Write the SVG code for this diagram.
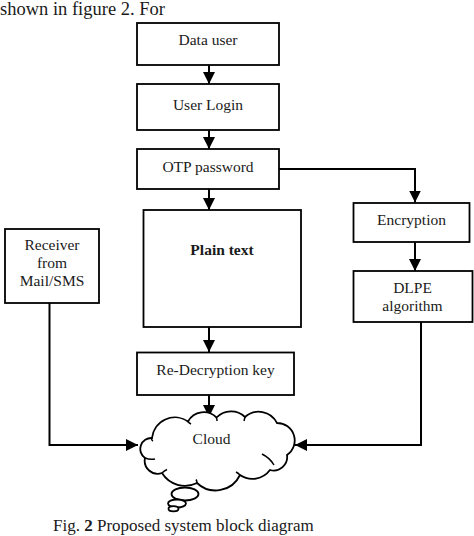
<svg xmlns="http://www.w3.org/2000/svg" width="474" height="536" viewBox="0 0 474 536">
<style>
.box{fill:#fff;stroke:#000;stroke-width:1.8}
.t{font-family:"Liberation Serif","Times New Roman",serif;font-size:15.5px;fill:#1a1a1a;text-anchor:middle}
.b{font-weight:bold}
.c{fill:none;stroke:#000;stroke-width:2}
.cl{fill:#fff;stroke:#000;stroke-width:1.8}
</style>
<defs>
<marker id="ah" markerUnits="userSpaceOnUse" markerWidth="12" markerHeight="12" viewBox="0 0 12 12" refX="12" refY="6" orient="auto">
<path d="M0,0 L12,6 L0,12 Z" fill="#000"/>
</marker>
</defs>
<rect width="474" height="536" fill="#fff"/>
<text x="0" y="14.5" style="font-family:'Liberation Serif','Times New Roman',serif;font-size:18.5px;fill:#1a1a1a">shown in figure 2. For</text>

<g id="connectors">
<line class="c" x1="209" y1="65" x2="209" y2="84" marker-end="url(#ah)"/>
<line class="c" x1="209" y1="130" x2="209" y2="149" marker-end="url(#ah)"/>
<line class="c" x1="209" y1="189" x2="209" y2="210" marker-end="url(#ah)"/>
<path class="c" d="M279,169 H415 V202.5" marker-end="url(#ah)"/>
<line class="c" x1="415" y1="242" x2="415" y2="271" marker-end="url(#ah)"/>
<line class="c" x1="209" y1="327" x2="209" y2="352" marker-end="url(#ah)"/>
<line class="c" x1="209" y1="395" x2="209" y2="417" marker-end="url(#ah)"/>
<path class="c" d="M49.5,303 V445 H138" marker-end="url(#ah)"/>
<path class="c" d="M421,322 V445 H295" marker-end="url(#ah)"/>
</g>

<g id="data-user">
<rect class="box" x="137" y="23" width="142" height="42"/>
<text class="t" x="208" y="45">Data user</text>
</g>
<g id="user-login">
<rect class="box" x="137" y="84" width="142" height="46"/>
<text class="t" x="208" y="110">User Login</text>
</g>
<g id="otp-password">
<rect class="box" x="137" y="149" width="142" height="40"/>
<text class="t" x="208" y="172">OTP password</text>
</g>
<g id="plain-text">
<rect class="box" x="143.5" y="210" width="157.5" height="117"/>
<text class="t b" x="222" y="254.5">Plain text</text>
</g>
<g id="encryption">
<rect class="box" x="353.5" y="203" width="116" height="39"/>
<text class="t" x="411.5" y="225">Encryption</text>
</g>
<g id="dlpe-algorithm">
<rect class="box" x="353.5" y="271" width="119" height="51"/>
<text class="t" x="412.5" y="293">DLPE</text>
<text class="t" x="412.5" y="311">algorithm</text>
</g>
<g id="receiver">
<rect class="box" x="5" y="229" width="94" height="74"/>
<text class="t" x="52" y="250">Receiver</text>
<text class="t" x="52" y="268">from</text>
<text class="t" x="52" y="286">Mail/SMS</text>
</g>
<g id="re-decryption-key">
<rect class="box" x="137" y="352.5" width="157" height="42.5"/>
<text class="t" x="215.5" y="375">Re-Decryption key</text>
</g>
<g id="cloud">
<path class="cl" d="M145,458 A11,11 0 0 1 152,438 A23,23 0 0 1 188,421.5 A18,18 0 0 1 216.5,417.5 A20,20 0 0 1 245,417 A20.5,20.5 0 0 1 277,423 A17.5,17.5 0 0 1 287,455 A13.5,13.5 0 0 1 270,470 A22,22 0 0 1 240,475 A27,27 0 0 1 197,483 A27,27 0 0 1 162,473 A13,13 0 0 1 145,458 Z"/>
<path fill="none" stroke="#000" stroke-width="1.5" d="M145,458 Q150,460 155,459 M152,438 Q151,440 153,441 M188,421.5 Q189,423 191,424 M216.5,417.5 Q217,419 217,421 M245,417 Q244.5,419 244,421 M262,454 Q270,458 274,465 M240,475 Q238,473 236,472 M197,483 Q197,481 196,479.5 M162,473 Q164,471 167,469.5"/>
<ellipse class="cl" cx="185" cy="494" rx="13.5" ry="6.5"/>
<ellipse class="cl" cx="177" cy="503.5" rx="9" ry="4"/>
<ellipse class="cl" cx="173.5" cy="508.8" rx="5" ry="2.6"/>
<text class="t" x="211.5" y="443.5">Cloud</text>
</g>
<text x="53" y="531" style="font-family:'Liberation Serif','Times New Roman',serif;font-size:17px;fill:#1a1a1a">Fig. <tspan font-weight="bold">2</tspan> Proposed system block diagram</text>
</svg>
